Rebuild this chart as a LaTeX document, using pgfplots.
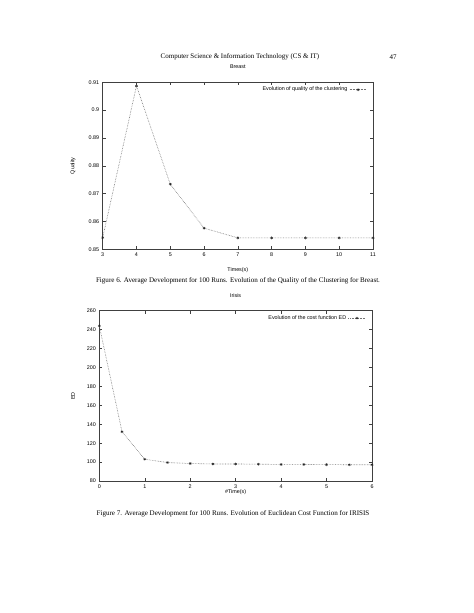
\documentclass[border=0pt]{standalone}
\usepackage{pgfplots}
\pgfplotsset{compat=1.18}
\usepackage{fontspec}
\setmainfont{Liberation Serif}
\setsansfont{Liberation Sans}

\newcommand{\plotfont}{\sffamily\fontsize{5.4}{6}\selectfont}

\pgfplotsset{
  gnu/.style={
    scale only axis,
    axis line style={black!75, line width=0.6pt},
    tick style={black!75, line width=0.5pt},
    tick align=inside,
    major tick length=3bp,
    tick label style={font=\plotfont},
    label style={font=\plotfont},
    title style={font=\plotfont},
    /pgf/number format/assume math mode=true,
    legend style={draw=none, fill=none, font=\plotfont, inner sep=0pt,
      anchor=north east, cells={anchor=east}},
    legend plot pos=right,
    enlargelimits=false,
  },
  series/.style={black!55, densely dotted, line width=0.6pt,
    mark=asterisk, mark size=1.4bp,
    mark options={solid, black!85, line width=0.45pt}},
}

\begin{document}
\begin{tikzpicture}
\path[use as bounding box, fill=white] (0,0) rectangle (474bp,-613bp);

\node[font=\fontsize{7}{8}\selectfont] at (240bp,-57bp)
  {Computer Science \& Information Technology (CS \& IT)};
\node[font=\fontsize{7}{8}\selectfont] at (393bp,-57bp) {47};

\begin{axis}[gnu,
  at={(102.7bp,-249.3bp)}, anchor=south west,
  width=270.3bp, height=167bp,
  xmin=3, xmax=11, ymin=0.85, ymax=0.91,
  xtick={3,4,...,11},
  ytick={0.85,0.86,0.87,0.88,0.89,0.9,0.91},
  yticklabel style={/pgf/number format/fixed, /pgf/number format/precision=2},
  title={Breast},
  title style={at={(axis description cs:0.5,1.055)}, anchor=center},
  xlabel={Times(s)},
  xlabel style={at={(axis description cs:0.5,-0.125)}, anchor=center},
  ylabel={Quality},
  ylabel style={at={(axis description cs:-0.11,0.5)}, anchor=center},
  legend style={at={(0.978,0.985)}},
]
\addplot[series] coordinates {
  (3,0.8542) (4,0.9087) (5,0.8734) (6,0.8576) (7,0.8541)
  (8,0.8541) (9,0.8541) (10,0.8541) (11,0.8541)
};
\addlegendentry{Evolution of quality of the clustering}
\end{axis}

\node[font=\fontsize{7.1}{8}\selectfont] at (238bp,-281bp)
  {Figure 6. Average Development for 100 Runs. Evolution of the Quality of the Clustering for Breast.};

\begin{axis}[gnu,
  at={(99.3bp,-481bp)}, anchor=south west,
  width=272.7bp, height=170.3bp,
  xmin=0, xmax=6, ymin=80, ymax=260,
  xtick={0,1,...,6},
  ytick={80,100,...,260},
  title={Irisis},
  title style={at={(axis description cs:0.5,1.051)}, anchor=center},
  xlabel={\#Time(s)},
  xlabel style={at={(axis description cs:0.5,-0.065)}, anchor=center},
  ylabel={ED},
  ylabel style={at={(axis description cs:-0.096,0.5)}, anchor=center},
  legend style={at={(0.978,0.985)}},
]
\addplot[series] coordinates {
  (0,244) (0.5,132) (1,103) (1.5,99.5) (2,98.5) (2.5,98) (3,98)
  (3.5,97.8) (4,97.5) (4.5,97.5) (5,97.3) (5.5,97.2) (6,97.2)
};
\addlegendentry{Evolution of the cost function ED}
\end{axis}

\node[font=\fontsize{7.1}{8}\selectfont] at (233bp,-514bp)
  {Figure 7. Average Development for 100 Runs. Evolution of Euclidean Cost Function for IRISIS};
\end{tikzpicture}
\end{document}
